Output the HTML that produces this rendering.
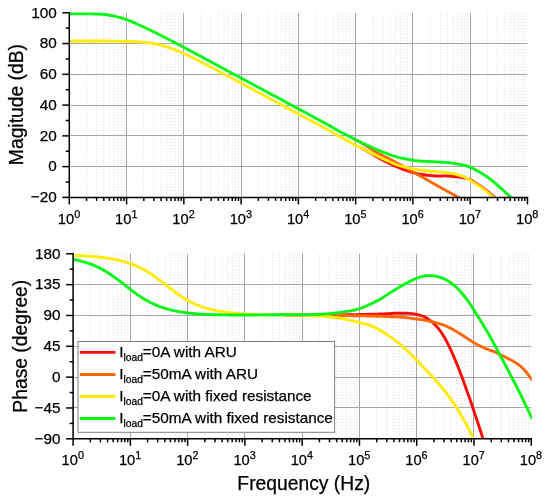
<!DOCTYPE html>
<html><head><meta charset="utf-8"><title>Bode plot</title>
<style>
html,body{margin:0;padding:0;background:#fff;}
svg{display:block;}
text{font-family:"Liberation Sans",Arial,sans-serif;fill:#000;stroke:#000;stroke-width:0.25px;}
.tl{font-size:14.7px;}
.yl{font-size:15.3px;}
.sup{font-size:10.8px;}
.sub{font-size:10.2px;}
.lg{font-size:15.3px;}
.at{font-size:19.3px;}
.mj{stroke:#a6a6a6;stroke-width:1;}
.mn{stroke:#e5e5e5;stroke-width:1;stroke-dasharray:1.5 1.5;}
.ax{stroke:#000;stroke-width:1.5;}
</style></head><body>
<svg width="550" height="499" viewBox="0 0 550 499">
<rect width="550" height="499" fill="#fff"/>
<line x1="86.54" y1="12.80" x2="86.54" y2="197.40" class="mn"/>
<line x1="96.62" y1="12.80" x2="96.62" y2="197.40" class="mn"/>
<line x1="103.78" y1="12.80" x2="103.78" y2="197.40" class="mn"/>
<line x1="109.33" y1="12.80" x2="109.33" y2="197.40" class="mn"/>
<line x1="113.86" y1="12.80" x2="113.86" y2="197.40" class="mn"/>
<line x1="117.70" y1="12.80" x2="117.70" y2="197.40" class="mn"/>
<line x1="121.02" y1="12.80" x2="121.02" y2="197.40" class="mn"/>
<line x1="123.95" y1="12.80" x2="123.95" y2="197.40" class="mn"/>
<line x1="143.81" y1="12.80" x2="143.81" y2="197.40" class="mn"/>
<line x1="153.89" y1="12.80" x2="153.89" y2="197.40" class="mn"/>
<line x1="161.05" y1="12.80" x2="161.05" y2="197.40" class="mn"/>
<line x1="166.60" y1="12.80" x2="166.60" y2="197.40" class="mn"/>
<line x1="171.13" y1="12.80" x2="171.13" y2="197.40" class="mn"/>
<line x1="174.97" y1="12.80" x2="174.97" y2="197.40" class="mn"/>
<line x1="178.29" y1="12.80" x2="178.29" y2="197.40" class="mn"/>
<line x1="181.22" y1="12.80" x2="181.22" y2="197.40" class="mn"/>
<line x1="201.08" y1="12.80" x2="201.08" y2="197.40" class="mn"/>
<line x1="211.16" y1="12.80" x2="211.16" y2="197.40" class="mn"/>
<line x1="218.32" y1="12.80" x2="218.32" y2="197.40" class="mn"/>
<line x1="223.87" y1="12.80" x2="223.87" y2="197.40" class="mn"/>
<line x1="228.40" y1="12.80" x2="228.40" y2="197.40" class="mn"/>
<line x1="232.24" y1="12.80" x2="232.24" y2="197.40" class="mn"/>
<line x1="235.56" y1="12.80" x2="235.56" y2="197.40" class="mn"/>
<line x1="238.49" y1="12.80" x2="238.49" y2="197.40" class="mn"/>
<line x1="258.35" y1="12.80" x2="258.35" y2="197.40" class="mn"/>
<line x1="268.43" y1="12.80" x2="268.43" y2="197.40" class="mn"/>
<line x1="275.59" y1="12.80" x2="275.59" y2="197.40" class="mn"/>
<line x1="281.14" y1="12.80" x2="281.14" y2="197.40" class="mn"/>
<line x1="285.67" y1="12.80" x2="285.67" y2="197.40" class="mn"/>
<line x1="289.51" y1="12.80" x2="289.51" y2="197.40" class="mn"/>
<line x1="292.83" y1="12.80" x2="292.83" y2="197.40" class="mn"/>
<line x1="295.76" y1="12.80" x2="295.76" y2="197.40" class="mn"/>
<line x1="315.62" y1="12.80" x2="315.62" y2="197.40" class="mn"/>
<line x1="325.70" y1="12.80" x2="325.70" y2="197.40" class="mn"/>
<line x1="332.86" y1="12.80" x2="332.86" y2="197.40" class="mn"/>
<line x1="338.41" y1="12.80" x2="338.41" y2="197.40" class="mn"/>
<line x1="342.94" y1="12.80" x2="342.94" y2="197.40" class="mn"/>
<line x1="346.78" y1="12.80" x2="346.78" y2="197.40" class="mn"/>
<line x1="350.10" y1="12.80" x2="350.10" y2="197.40" class="mn"/>
<line x1="353.03" y1="12.80" x2="353.03" y2="197.40" class="mn"/>
<line x1="372.89" y1="12.80" x2="372.89" y2="197.40" class="mn"/>
<line x1="382.97" y1="12.80" x2="382.97" y2="197.40" class="mn"/>
<line x1="390.13" y1="12.80" x2="390.13" y2="197.40" class="mn"/>
<line x1="395.68" y1="12.80" x2="395.68" y2="197.40" class="mn"/>
<line x1="400.21" y1="12.80" x2="400.21" y2="197.40" class="mn"/>
<line x1="404.05" y1="12.80" x2="404.05" y2="197.40" class="mn"/>
<line x1="407.37" y1="12.80" x2="407.37" y2="197.40" class="mn"/>
<line x1="410.30" y1="12.80" x2="410.30" y2="197.40" class="mn"/>
<line x1="430.16" y1="12.80" x2="430.16" y2="197.40" class="mn"/>
<line x1="440.24" y1="12.80" x2="440.24" y2="197.40" class="mn"/>
<line x1="447.40" y1="12.80" x2="447.40" y2="197.40" class="mn"/>
<line x1="452.95" y1="12.80" x2="452.95" y2="197.40" class="mn"/>
<line x1="457.48" y1="12.80" x2="457.48" y2="197.40" class="mn"/>
<line x1="461.32" y1="12.80" x2="461.32" y2="197.40" class="mn"/>
<line x1="464.64" y1="12.80" x2="464.64" y2="197.40" class="mn"/>
<line x1="467.57" y1="12.80" x2="467.57" y2="197.40" class="mn"/>
<line x1="487.43" y1="12.80" x2="487.43" y2="197.40" class="mn"/>
<line x1="497.51" y1="12.80" x2="497.51" y2="197.40" class="mn"/>
<line x1="504.67" y1="12.80" x2="504.67" y2="197.40" class="mn"/>
<line x1="510.22" y1="12.80" x2="510.22" y2="197.40" class="mn"/>
<line x1="514.75" y1="12.80" x2="514.75" y2="197.40" class="mn"/>
<line x1="518.59" y1="12.80" x2="518.59" y2="197.40" class="mn"/>
<line x1="521.91" y1="12.80" x2="521.91" y2="197.40" class="mn"/>
<line x1="524.84" y1="12.80" x2="524.84" y2="197.40" class="mn"/>
<line x1="126.50" y1="12.80" x2="126.50" y2="197.40" class="mj"/>
<line x1="183.50" y1="12.80" x2="183.50" y2="197.40" class="mj"/>
<line x1="241.50" y1="12.80" x2="241.50" y2="197.40" class="mj"/>
<line x1="298.50" y1="12.80" x2="298.50" y2="197.40" class="mj"/>
<line x1="355.50" y1="12.80" x2="355.50" y2="197.40" class="mj"/>
<line x1="412.50" y1="12.80" x2="412.50" y2="197.40" class="mj"/>
<line x1="470.50" y1="12.80" x2="470.50" y2="197.40" class="mj"/>
<line x1="69.30" y1="43.50" x2="527.46" y2="43.50" class="mj"/>
<line x1="69.30" y1="74.50" x2="527.46" y2="74.50" class="mj"/>
<line x1="69.30" y1="105.50" x2="527.46" y2="105.50" class="mj"/>
<line x1="69.30" y1="135.50" x2="527.46" y2="135.50" class="mj"/>
<line x1="69.30" y1="166.50" x2="527.46" y2="166.50" class="mj"/>
<clipPath id="ct"><rect x="69.30" y="9.80" width="458.66" height="187.60"/></clipPath>
<g clip-path="url(#ct)" fill="none" stroke-width="2.9" stroke-linejoin="round">
<path d="M361.4 148.1 L362.5 148.7 L363.7 149.3 L364.8 149.9 L366.0 150.5 L367.1 151.1 L368.2 151.7 L369.4 152.3 L370.5 153.0 L371.7 153.6 L372.8 154.3 L374.0 155.0 L375.1 155.7 L376.3 156.5 L377.4 157.2 L378.6 157.8 L379.7 158.5 L380.8 159.1 L382.0 159.7 L383.1 160.3 L384.3 160.9 L385.4 161.5 L386.6 162.0 L387.7 162.6 L388.9 163.2 L390.0 163.7 L391.2 164.3 L392.3 164.8 L393.4 165.3 L394.6 165.8 L395.7 166.3 L396.9 166.8 L398.0 167.2 L399.2 167.7 L400.3 168.2 L401.5 168.6 L402.6 169.1 L403.8 169.5 L404.9 169.9 L406.0 170.3 L407.2 170.8 L408.3 171.2 L409.5 171.6 L410.6 171.9 L411.8 172.3 L412.9 172.6 L414.1 172.9 L415.2 173.2 L416.4 173.5 L417.5 173.7 L418.6 173.9 L419.8 174.1 L420.9 174.3 L422.1 174.5 L423.2 174.7 L424.4 174.8 L425.5 175.0 L426.7 175.2 L427.8 175.3 L429.0 175.4 L430.1 175.5 L431.2 175.6 L432.4 175.7 L433.5 175.8 L434.7 175.9 L435.8 176.0 L437.0 176.0 L438.1 176.0 L439.3 176.1 L440.4 176.1 L441.6 176.0 L442.7 176.0 L443.8 175.9 L445.0 175.9 L446.1 175.9 L447.3 176.0 L448.4 176.0 L449.6 176.1 L450.7 176.2 L451.9 176.3 L453.0 176.4 L454.2 176.5 L455.3 176.7 L456.4 176.8 L457.6 176.9 L458.7 177.1 L459.9 177.2 L461.0 177.4 L462.2 177.6 L463.3 177.8 L464.5 178.0 L465.6 178.2 L466.8 178.5 L467.9 178.8 L469.0 179.2 L470.2 179.7 L471.3 180.3 L472.5 180.9 L473.6 181.6 L474.8 182.4 L475.9 183.1 L477.1 183.9 L478.2 184.7 L479.4 185.4 L480.5 186.2 L481.6 187.0 L482.8 187.8 L483.9 188.6 L485.1 189.5 L486.2 190.4 L487.4 191.3 L488.5 192.2 L489.7 193.2 L490.8 194.2 L492.0 195.1 L493.1 196.1 L494.2 197.1 L495.4 198.1 L496.5 199.1 L497.7 200.1 L498.8 201.2 L499.4 201.7" stroke="#ff0a0a"/>
<path d="M352.8 138.3 L353.9 138.9 L355.1 139.5 L356.2 140.1 L357.4 140.7 L358.5 141.3 L359.7 142.0 L360.8 142.6 L361.9 143.2 L363.1 143.9 L364.2 144.6 L365.4 145.2 L366.5 146.0 L367.7 146.7 L368.8 147.5 L370.0 148.3 L371.1 149.1 L372.3 149.8 L373.4 150.5 L374.5 151.2 L375.7 151.9 L376.8 152.5 L378.0 153.1 L379.1 153.7 L380.3 154.3 L381.4 154.9 L382.6 155.5 L383.7 156.1 L384.9 156.7 L386.0 157.2 L387.1 157.8 L388.3 158.4 L389.4 159.0 L390.6 159.5 L391.7 160.1 L392.9 160.7 L394.0 161.3 L395.2 162.0 L396.3 162.6 L397.5 163.2 L398.6 163.8 L399.7 164.4 L400.9 165.0 L402.0 165.6 L403.2 166.3 L404.3 166.9 L405.5 167.5 L406.6 168.1 L407.8 168.8 L408.9 169.5 L410.1 170.2 L411.2 170.9 L412.3 171.6 L413.5 172.3 L414.6 172.9 L415.8 173.5 L416.9 174.2 L418.1 174.8 L419.2 175.4 L420.4 176.1 L421.5 176.7 L422.7 177.3 L423.8 178.0 L424.9 178.6 L426.1 179.3 L427.2 179.9 L428.4 180.6 L429.5 181.2 L430.7 181.9 L431.8 182.6 L433.0 183.2 L434.1 183.9 L435.3 184.5 L436.4 185.2 L437.5 185.8 L438.7 186.5 L439.8 187.1 L441.0 187.7 L442.1 188.4 L443.3 189.0 L444.4 189.7 L445.6 190.3 L446.7 190.9 L447.9 191.5 L449.0 192.1 L450.1 192.8 L451.3 193.4 L452.4 194.0 L453.6 194.6 L454.7 195.3 L455.9 196.0 L457.0 196.6 L458.2 197.3 L459.3 198.0 L460.5 198.6 L461.6 199.3 L462.7 200.0 L463.9 200.7 L465.0 201.4 L465.6 201.7" stroke="#ff6608"/>
<path d="M69.3 41.0 L70.4 41.0 L71.6 41.0 L72.7 41.0 L73.9 41.0 L75.0 41.0 L76.2 41.0 L77.3 41.0 L78.5 41.0 L79.6 41.0 L80.8 41.0 L81.9 41.0 L83.0 41.0 L84.2 41.0 L85.3 41.0 L86.5 41.0 L87.6 41.0 L88.8 41.0 L89.9 41.0 L91.1 41.0 L92.2 41.0 L93.4 41.0 L94.5 41.0 L95.6 41.0 L96.8 41.0 L97.9 41.0 L99.1 41.0 L100.2 41.0 L101.4 41.0 L102.5 41.0 L103.7 41.0 L104.8 41.0 L106.0 41.0 L107.1 41.0 L108.2 41.0 L109.4 41.0 L110.5 41.1 L111.7 41.1 L112.8 41.1 L114.0 41.1 L115.1 41.1 L116.3 41.1 L117.4 41.1 L118.6 41.1 L119.7 41.2 L120.8 41.2 L122.0 41.2 L123.1 41.2 L124.3 41.3 L125.4 41.3 L126.6 41.3 L127.7 41.4 L128.9 41.4 L130.0 41.4 L131.2 41.5 L132.3 41.5 L133.4 41.6 L134.6 41.6 L135.7 41.7 L136.9 41.8 L138.0 41.8 L139.2 41.9 L140.3 42.0 L141.5 42.1 L142.6 42.2 L143.8 42.3 L144.9 42.4 L146.0 42.5 L147.2 42.7 L148.3 42.8 L149.5 43.0 L150.6 43.1 L151.8 43.3 L152.9 43.5 L154.1 43.7 L155.2 43.9 L156.4 44.1 L157.5 44.4 L158.6 44.6 L159.8 44.9 L160.9 45.2 L162.1 45.5 L163.2 45.8 L164.4 46.1 L165.5 46.4 L166.7 46.8 L167.8 47.2 L168.9 47.5 L170.1 47.9 L171.2 48.3 L172.4 48.8 L173.5 49.2 L174.7 49.6 L175.8 50.1 L177.0 50.5 L178.1 51.0 L179.3 51.5 L180.4 52.0 L181.5 52.5 L182.7 53.0 L183.8 53.5 L185.0 54.0 L186.1 54.6 L187.3 55.1 L188.4 55.6 L189.6 56.2 L190.7 56.7 L191.9 57.3 L193.0 57.9 L194.1 58.4 L195.3 59.0 L196.4 59.6 L197.6 60.2 L198.7 60.7 L199.9 61.3 L201.0 61.9 L202.2 62.5 L203.3 63.1 L204.5 63.7 L205.6 64.3 L206.7 64.9 L207.9 65.5 L209.0 66.1 L210.2 66.7 L211.3 67.3 L212.5 67.9 L213.6 68.5 L214.8 69.1 L215.9 69.7 L217.1 70.3 L218.2 70.9 L219.3 71.5 L220.5 72.1 L221.6 72.7 L222.8 73.4 L223.9 74.0 L225.1 74.6 L226.2 75.2 L227.4 75.8 L228.5 76.4 L229.7 77.0 L230.8 77.6 L231.9 78.3 L233.1 78.9 L234.2 79.5 L235.4 80.1 L236.5 80.7 L237.7 81.3 L238.8 81.9 L240.0 82.5 L241.1 83.2 L242.3 83.8 L243.4 84.4 L244.5 85.0 L245.7 85.6 L246.8 86.2 L248.0 86.9 L249.1 87.5 L250.3 88.1 L251.4 88.7 L252.6 89.3 L253.7 89.9 L254.9 90.5 L256.0 91.2 L257.1 91.8 L258.3 92.4 L259.4 93.0 L260.6 93.6 L261.7 94.2 L262.9 94.8 L264.0 95.5 L265.2 96.1 L266.3 96.7 L267.5 97.3 L268.6 97.9 L269.7 98.5 L270.9 99.2 L272.0 99.8 L273.2 100.4 L274.3 101.0 L275.5 101.6 L276.6 102.2 L277.8 102.8 L278.9 103.5 L280.1 104.1 L281.2 104.7 L282.3 105.3 L283.5 105.9 L284.6 106.5 L285.8 107.1 L286.9 107.8 L288.1 108.4 L289.2 109.0 L290.4 109.6 L291.5 110.2 L292.7 110.8 L293.8 111.5 L294.9 112.1 L296.1 112.7 L297.2 113.3 L298.4 113.9 L299.5 114.5 L300.7 115.1 L301.8 115.8 L303.0 116.4 L304.1 117.0 L305.3 117.6 L306.4 118.2 L307.5 118.8 L308.7 119.5 L309.8 120.1 L311.0 120.7 L312.1 121.3 L313.3 121.9 L314.4 122.5 L315.6 123.1 L316.7 123.8 L317.9 124.4 L319.0 125.0 L320.1 125.6 L321.3 126.2 L322.4 126.8 L323.6 127.5 L324.7 128.1 L325.9 128.7 L327.0 129.3 L328.2 129.9 L329.3 130.6 L330.5 131.2 L331.6 131.9 L332.7 132.6 L333.9 133.3 L335.0 133.9 L336.2 134.6 L337.3 135.3 L338.5 135.9 L339.6 136.6 L340.8 137.2 L341.9 137.8 L343.1 138.4 L344.2 139.0 L345.3 139.6 L346.5 140.2 L347.6 140.9 L348.8 141.5 L349.9 142.1 L351.1 142.7 L352.2 143.3 L353.4 144.0 L354.5 144.6 L355.7 145.2 L356.8 145.8 L357.9 146.4 L359.1 147.0 L360.2 147.5 L361.4 148.1 L362.5 148.7 L363.7 149.3 L364.8 149.8 L366.0 150.4 L367.1 151.0 L368.2 151.5 L369.4 152.1 L370.5 152.7 L371.7 153.2 L372.8 153.8 L374.0 154.4 L375.1 154.9 L376.3 155.5 L377.4 156.1 L378.6 156.6 L379.7 157.2 L380.8 157.7 L382.0 158.3 L383.1 158.8 L384.3 159.3 L385.4 159.9 L386.6 160.4 L387.7 160.9 L388.9 161.5 L390.0 162.0 L391.2 162.5 L392.3 163.0 L393.4 163.5 L394.6 163.9 L395.7 164.4 L396.9 164.8 L398.0 165.1 L399.2 165.5 L400.3 165.8 L401.5 166.2 L402.6 166.5 L403.8 166.7 L404.9 167.0 L406.0 167.3 L407.2 167.6 L408.3 167.9 L409.5 168.1 L410.6 168.4 L411.8 168.6 L412.9 168.9 L414.1 169.1 L415.2 169.3 L416.4 169.4 L417.5 169.6 L418.6 169.8 L419.8 169.9 L420.9 170.1 L422.1 170.2 L423.2 170.3 L424.4 170.5 L425.5 170.6 L426.7 170.7 L427.8 170.9 L429.0 171.0 L430.1 171.1 L431.2 171.2 L432.4 171.3 L433.5 171.4 L434.7 171.5 L435.8 171.6 L437.0 171.7 L438.1 171.8 L439.3 171.9 L440.4 172.0 L441.6 172.1 L442.7 172.2 L443.8 172.4 L445.0 172.5 L446.1 172.6 L447.3 172.8 L448.4 172.9 L449.6 173.1 L450.7 173.3 L451.9 173.5 L453.0 173.7 L454.2 173.9 L455.3 174.2 L456.4 174.5 L457.6 174.8 L458.7 175.2 L459.9 175.5 L461.0 175.9 L462.2 176.3 L463.3 176.7 L464.5 177.2 L465.6 177.8 L466.8 178.3 L467.9 179.0 L469.0 179.6 L470.2 180.3 L471.3 181.0 L472.5 181.7 L473.6 182.4 L474.8 183.1 L475.9 183.9 L477.1 184.6 L478.2 185.4 L479.4 186.1 L480.5 186.9 L481.6 187.7 L482.8 188.6 L483.9 189.4 L485.1 190.3 L486.2 191.2 L487.4 192.2 L488.5 193.1 L489.7 194.1 L490.8 195.0 L492.0 196.0 L493.1 197.0 L494.2 198.0 L495.4 199.0 L496.5 200.1 L497.7 201.2 L498.3 201.7" stroke="#ffea08"/>
<path d="M69.3 13.9 L70.4 13.9 L71.6 13.9 L72.7 13.9 L73.9 13.9 L75.0 13.9 L76.2 13.9 L77.3 13.9 L78.5 13.9 L79.6 13.9 L80.8 13.9 L81.9 13.9 L83.0 13.9 L84.2 13.9 L85.3 13.9 L86.5 13.9 L87.6 13.9 L88.8 13.9 L89.9 13.9 L91.1 13.9 L92.2 13.9 L93.4 13.9 L94.5 14.0 L95.6 14.0 L96.8 14.0 L97.9 14.1 L99.1 14.1 L100.2 14.2 L101.4 14.2 L102.5 14.3 L103.7 14.4 L104.8 14.5 L106.0 14.7 L107.1 14.8 L108.2 15.0 L109.4 15.2 L110.5 15.4 L111.7 15.6 L112.8 15.8 L114.0 16.1 L115.1 16.3 L116.3 16.6 L117.4 16.9 L118.6 17.1 L119.7 17.4 L120.8 17.7 L122.0 18.1 L123.1 18.4 L124.3 18.8 L125.4 19.2 L126.6 19.6 L127.7 20.0 L128.9 20.5 L130.0 20.9 L131.2 21.4 L132.3 21.9 L133.4 22.4 L134.6 22.9 L135.7 23.4 L136.9 24.0 L138.0 24.5 L139.2 25.0 L140.3 25.5 L141.5 26.0 L142.6 26.5 L143.8 27.1 L144.9 27.6 L146.0 28.1 L147.2 28.7 L148.3 29.2 L149.5 29.8 L150.6 30.3 L151.8 30.9 L152.9 31.4 L154.1 32.0 L155.2 32.5 L156.4 33.1 L157.5 33.7 L158.6 34.2 L159.8 34.8 L160.9 35.4 L162.1 36.0 L163.2 36.6 L164.4 37.2 L165.5 37.7 L166.7 38.3 L167.8 38.9 L168.9 39.5 L170.1 40.1 L171.2 40.7 L172.4 41.3 L173.5 41.9 L174.7 42.5 L175.8 43.1 L177.0 43.7 L178.1 44.3 L179.3 44.9 L180.4 45.5 L181.5 46.1 L182.7 46.7 L183.8 47.3 L185.0 48.0 L186.1 48.6 L187.3 49.2 L188.4 49.8 L189.6 50.4 L190.7 51.0 L191.9 51.6 L193.0 52.2 L194.1 52.8 L195.3 53.5 L196.4 54.1 L197.6 54.7 L198.7 55.3 L199.9 55.9 L201.0 56.5 L202.2 57.2 L203.3 57.8 L204.5 58.4 L205.6 59.0 L206.7 59.6 L207.9 60.2 L209.0 60.8 L210.2 61.5 L211.3 62.1 L212.5 62.7 L213.6 63.3 L214.8 63.9 L215.9 64.5 L217.1 65.2 L218.2 65.8 L219.3 66.4 L220.5 67.0 L221.6 67.6 L222.8 68.2 L223.9 68.8 L225.1 69.5 L226.2 70.1 L227.4 70.7 L228.5 71.3 L229.7 71.9 L230.8 72.5 L231.9 73.2 L233.1 73.8 L234.2 74.4 L235.4 75.0 L236.5 75.6 L237.7 76.2 L238.8 76.8 L240.0 77.5 L241.1 78.1 L242.3 78.7 L243.4 79.3 L244.5 79.9 L245.7 80.5 L246.8 81.1 L248.0 81.8 L249.1 82.4 L250.3 83.0 L251.4 83.6 L252.6 84.2 L253.7 84.8 L254.9 85.5 L256.0 86.1 L257.1 86.7 L258.3 87.3 L259.4 87.9 L260.6 88.5 L261.7 89.1 L262.9 89.8 L264.0 90.4 L265.2 91.0 L266.3 91.6 L267.5 92.2 L268.6 92.8 L269.7 93.5 L270.9 94.1 L272.0 94.7 L273.2 95.3 L274.3 95.9 L275.5 96.5 L276.6 97.1 L277.8 97.8 L278.9 98.4 L280.1 99.0 L281.2 99.6 L282.3 100.2 L283.5 100.8 L284.6 101.5 L285.8 102.1 L286.9 102.7 L288.1 103.3 L289.2 103.9 L290.4 104.5 L291.5 105.1 L292.7 105.8 L293.8 106.4 L294.9 107.0 L296.1 107.6 L297.2 108.2 L298.4 108.8 L299.5 109.5 L300.7 110.1 L301.8 110.7 L303.0 111.3 L304.1 111.9 L305.3 112.5 L306.4 113.1 L307.5 113.8 L308.7 114.4 L309.8 115.0 L311.0 115.6 L312.1 116.2 L313.3 116.8 L314.4 117.5 L315.6 118.1 L316.7 118.7 L317.9 119.3 L319.0 119.9 L320.1 120.5 L321.3 121.1 L322.4 121.8 L323.6 122.4 L324.7 123.0 L325.9 123.6 L327.0 124.2 L328.2 124.9 L329.3 125.5 L330.5 126.2 L331.6 126.9 L332.7 127.5 L333.9 128.2 L335.0 128.9 L336.2 129.6 L337.3 130.2 L338.5 130.9 L339.6 131.5 L340.8 132.1 L341.9 132.7 L343.1 133.3 L344.2 133.8 L345.3 134.4 L346.5 135.0 L347.6 135.6 L348.8 136.2 L349.9 136.8 L351.1 137.3 L352.2 137.9 L353.4 138.5 L354.5 139.1 L355.7 139.7 L356.8 140.2 L357.9 140.8 L359.1 141.4 L360.2 141.9 L361.4 142.5 L362.5 143.0 L363.7 143.5 L364.8 144.1 L366.0 144.6 L367.1 145.2 L368.2 145.7 L369.4 146.2 L370.5 146.8 L371.7 147.3 L372.8 147.8 L374.0 148.3 L375.1 148.8 L376.3 149.3 L377.4 149.8 L378.6 150.3 L379.7 150.8 L380.8 151.2 L382.0 151.7 L383.1 152.2 L384.3 152.6 L385.4 153.0 L386.6 153.4 L387.7 153.9 L388.9 154.3 L390.0 154.7 L391.2 155.1 L392.3 155.5 L393.4 155.9 L394.6 156.2 L395.7 156.6 L396.9 156.9 L398.0 157.3 L399.2 157.6 L400.3 157.8 L401.5 158.1 L402.6 158.3 L403.8 158.6 L404.9 158.8 L406.0 159.0 L407.2 159.2 L408.3 159.4 L409.5 159.6 L410.6 159.8 L411.8 160.1 L412.9 160.3 L414.1 160.5 L415.2 160.6 L416.4 160.8 L417.5 160.9 L418.6 161.0 L419.8 161.0 L420.9 161.1 L422.1 161.2 L423.2 161.3 L424.4 161.3 L425.5 161.4 L426.7 161.4 L427.8 161.5 L429.0 161.5 L430.1 161.6 L431.2 161.6 L432.4 161.7 L433.5 161.7 L434.7 161.8 L435.8 161.9 L437.0 161.9 L438.1 162.0 L439.3 162.1 L440.4 162.1 L441.6 162.2 L442.7 162.3 L443.8 162.4 L445.0 162.4 L446.1 162.5 L447.3 162.6 L448.4 162.7 L449.6 162.8 L450.7 162.9 L451.9 163.1 L453.0 163.2 L454.2 163.4 L455.3 163.6 L456.4 163.8 L457.6 164.0 L458.7 164.2 L459.9 164.4 L461.0 164.6 L462.2 164.8 L463.3 165.1 L464.5 165.4 L465.6 165.7 L466.8 166.0 L467.9 166.4 L469.0 166.8 L470.2 167.3 L471.3 167.8 L472.5 168.3 L473.6 168.8 L474.8 169.4 L475.9 170.0 L477.1 170.6 L478.2 171.2 L479.4 171.9 L480.5 172.6 L481.6 173.3 L482.8 174.0 L483.9 174.7 L485.1 175.5 L486.2 176.3 L487.4 177.1 L488.5 177.9 L489.7 178.8 L490.8 179.6 L492.0 180.5 L493.1 181.4 L494.2 182.3 L495.4 183.3 L496.5 184.3 L497.7 185.3 L498.8 186.4 L500.0 187.4 L501.1 188.4 L502.3 189.5 L503.4 190.5 L504.6 191.5 L505.7 192.6 L506.8 193.6 L508.0 194.6 L509.1 195.6 L510.3 196.5 L511.4 197.5 L512.6 198.5 L513.7 199.5 L514.9 200.6 L516.0 201.7" stroke="#08f518"/>
</g>
<path d="M69.30 12.05 V197.40 H528.21" class="ax" fill="none"/>
<line x1="69.30" y1="197.40" x2="69.30" y2="204.40" class="ax"/>
<line x1="86.54" y1="197.40" x2="86.54" y2="200.90" class="ax"/>
<line x1="96.62" y1="197.40" x2="96.62" y2="200.90" class="ax"/>
<line x1="103.78" y1="197.40" x2="103.78" y2="200.90" class="ax"/>
<line x1="109.33" y1="197.40" x2="109.33" y2="200.90" class="ax"/>
<line x1="113.86" y1="197.40" x2="113.86" y2="200.90" class="ax"/>
<line x1="117.70" y1="197.40" x2="117.70" y2="200.90" class="ax"/>
<line x1="121.02" y1="197.40" x2="121.02" y2="200.90" class="ax"/>
<line x1="123.95" y1="197.40" x2="123.95" y2="200.90" class="ax"/>
<text x="69.00" y="223.70" class="tl" text-anchor="middle">10<tspan class="sup" dy="-5.7">0</tspan></text>
<line x1="126.57" y1="197.40" x2="126.57" y2="204.40" class="ax"/>
<line x1="143.81" y1="197.40" x2="143.81" y2="200.90" class="ax"/>
<line x1="153.89" y1="197.40" x2="153.89" y2="200.90" class="ax"/>
<line x1="161.05" y1="197.40" x2="161.05" y2="200.90" class="ax"/>
<line x1="166.60" y1="197.40" x2="166.60" y2="200.90" class="ax"/>
<line x1="171.13" y1="197.40" x2="171.13" y2="200.90" class="ax"/>
<line x1="174.97" y1="197.40" x2="174.97" y2="200.90" class="ax"/>
<line x1="178.29" y1="197.40" x2="178.29" y2="200.90" class="ax"/>
<line x1="181.22" y1="197.40" x2="181.22" y2="200.90" class="ax"/>
<text x="126.27" y="223.70" class="tl" text-anchor="middle">10<tspan class="sup" dy="-5.7">1</tspan></text>
<line x1="183.84" y1="197.40" x2="183.84" y2="204.40" class="ax"/>
<line x1="201.08" y1="197.40" x2="201.08" y2="200.90" class="ax"/>
<line x1="211.16" y1="197.40" x2="211.16" y2="200.90" class="ax"/>
<line x1="218.32" y1="197.40" x2="218.32" y2="200.90" class="ax"/>
<line x1="223.87" y1="197.40" x2="223.87" y2="200.90" class="ax"/>
<line x1="228.40" y1="197.40" x2="228.40" y2="200.90" class="ax"/>
<line x1="232.24" y1="197.40" x2="232.24" y2="200.90" class="ax"/>
<line x1="235.56" y1="197.40" x2="235.56" y2="200.90" class="ax"/>
<line x1="238.49" y1="197.40" x2="238.49" y2="200.90" class="ax"/>
<text x="183.54" y="223.70" class="tl" text-anchor="middle">10<tspan class="sup" dy="-5.7">2</tspan></text>
<line x1="241.11" y1="197.40" x2="241.11" y2="204.40" class="ax"/>
<line x1="258.35" y1="197.40" x2="258.35" y2="200.90" class="ax"/>
<line x1="268.43" y1="197.40" x2="268.43" y2="200.90" class="ax"/>
<line x1="275.59" y1="197.40" x2="275.59" y2="200.90" class="ax"/>
<line x1="281.14" y1="197.40" x2="281.14" y2="200.90" class="ax"/>
<line x1="285.67" y1="197.40" x2="285.67" y2="200.90" class="ax"/>
<line x1="289.51" y1="197.40" x2="289.51" y2="200.90" class="ax"/>
<line x1="292.83" y1="197.40" x2="292.83" y2="200.90" class="ax"/>
<line x1="295.76" y1="197.40" x2="295.76" y2="200.90" class="ax"/>
<text x="240.81" y="223.70" class="tl" text-anchor="middle">10<tspan class="sup" dy="-5.7">3</tspan></text>
<line x1="298.38" y1="197.40" x2="298.38" y2="204.40" class="ax"/>
<line x1="315.62" y1="197.40" x2="315.62" y2="200.90" class="ax"/>
<line x1="325.70" y1="197.40" x2="325.70" y2="200.90" class="ax"/>
<line x1="332.86" y1="197.40" x2="332.86" y2="200.90" class="ax"/>
<line x1="338.41" y1="197.40" x2="338.41" y2="200.90" class="ax"/>
<line x1="342.94" y1="197.40" x2="342.94" y2="200.90" class="ax"/>
<line x1="346.78" y1="197.40" x2="346.78" y2="200.90" class="ax"/>
<line x1="350.10" y1="197.40" x2="350.10" y2="200.90" class="ax"/>
<line x1="353.03" y1="197.40" x2="353.03" y2="200.90" class="ax"/>
<text x="298.08" y="223.70" class="tl" text-anchor="middle">10<tspan class="sup" dy="-5.7">4</tspan></text>
<line x1="355.65" y1="197.40" x2="355.65" y2="204.40" class="ax"/>
<line x1="372.89" y1="197.40" x2="372.89" y2="200.90" class="ax"/>
<line x1="382.97" y1="197.40" x2="382.97" y2="200.90" class="ax"/>
<line x1="390.13" y1="197.40" x2="390.13" y2="200.90" class="ax"/>
<line x1="395.68" y1="197.40" x2="395.68" y2="200.90" class="ax"/>
<line x1="400.21" y1="197.40" x2="400.21" y2="200.90" class="ax"/>
<line x1="404.05" y1="197.40" x2="404.05" y2="200.90" class="ax"/>
<line x1="407.37" y1="197.40" x2="407.37" y2="200.90" class="ax"/>
<line x1="410.30" y1="197.40" x2="410.30" y2="200.90" class="ax"/>
<text x="355.35" y="223.70" class="tl" text-anchor="middle">10<tspan class="sup" dy="-5.7">5</tspan></text>
<line x1="412.92" y1="197.40" x2="412.92" y2="204.40" class="ax"/>
<line x1="430.16" y1="197.40" x2="430.16" y2="200.90" class="ax"/>
<line x1="440.24" y1="197.40" x2="440.24" y2="200.90" class="ax"/>
<line x1="447.40" y1="197.40" x2="447.40" y2="200.90" class="ax"/>
<line x1="452.95" y1="197.40" x2="452.95" y2="200.90" class="ax"/>
<line x1="457.48" y1="197.40" x2="457.48" y2="200.90" class="ax"/>
<line x1="461.32" y1="197.40" x2="461.32" y2="200.90" class="ax"/>
<line x1="464.64" y1="197.40" x2="464.64" y2="200.90" class="ax"/>
<line x1="467.57" y1="197.40" x2="467.57" y2="200.90" class="ax"/>
<text x="412.62" y="223.70" class="tl" text-anchor="middle">10<tspan class="sup" dy="-5.7">6</tspan></text>
<line x1="470.19" y1="197.40" x2="470.19" y2="204.40" class="ax"/>
<line x1="487.43" y1="197.40" x2="487.43" y2="200.90" class="ax"/>
<line x1="497.51" y1="197.40" x2="497.51" y2="200.90" class="ax"/>
<line x1="504.67" y1="197.40" x2="504.67" y2="200.90" class="ax"/>
<line x1="510.22" y1="197.40" x2="510.22" y2="200.90" class="ax"/>
<line x1="514.75" y1="197.40" x2="514.75" y2="200.90" class="ax"/>
<line x1="518.59" y1="197.40" x2="518.59" y2="200.90" class="ax"/>
<line x1="521.91" y1="197.40" x2="521.91" y2="200.90" class="ax"/>
<line x1="524.84" y1="197.40" x2="524.84" y2="200.90" class="ax"/>
<text x="469.89" y="223.70" class="tl" text-anchor="middle">10<tspan class="sup" dy="-5.7">7</tspan></text>
<line x1="527.46" y1="197.40" x2="527.46" y2="204.40" class="ax"/>
<text x="527.16" y="223.70" class="tl" text-anchor="middle">10<tspan class="sup" dy="-5.7">8</tspan></text>
<line x1="62.30" y1="12.80" x2="69.30" y2="12.80" class="ax"/>
<line x1="65.80" y1="28.18" x2="69.30" y2="28.18" class="ax"/>
<text x="56.70" y="17.60" class="tl yl" text-anchor="end">100</text>
<line x1="62.30" y1="43.57" x2="69.30" y2="43.57" class="ax"/>
<line x1="65.80" y1="58.95" x2="69.30" y2="58.95" class="ax"/>
<text x="56.70" y="48.37" class="tl yl" text-anchor="end">80</text>
<line x1="62.30" y1="74.33" x2="69.30" y2="74.33" class="ax"/>
<line x1="65.80" y1="89.72" x2="69.30" y2="89.72" class="ax"/>
<text x="56.70" y="79.13" class="tl yl" text-anchor="end">60</text>
<line x1="62.30" y1="105.10" x2="69.30" y2="105.10" class="ax"/>
<line x1="65.80" y1="120.48" x2="69.30" y2="120.48" class="ax"/>
<text x="56.70" y="109.90" class="tl yl" text-anchor="end">40</text>
<line x1="62.30" y1="135.87" x2="69.30" y2="135.87" class="ax"/>
<line x1="65.80" y1="151.25" x2="69.30" y2="151.25" class="ax"/>
<text x="56.70" y="140.67" class="tl yl" text-anchor="end">20</text>
<line x1="62.30" y1="166.63" x2="69.30" y2="166.63" class="ax"/>
<line x1="65.80" y1="182.02" x2="69.30" y2="182.02" class="ax"/>
<text x="56.70" y="171.43" class="tl yl" text-anchor="end">0</text>
<line x1="62.30" y1="197.40" x2="69.30" y2="197.40" class="ax"/>
<text x="56.70" y="202.20" class="tl yl" text-anchor="end">−20</text>
<text transform="translate(22.8 104.6) rotate(-90)" class="at" text-anchor="middle">Magitude (dB)</text>
<line x1="90.34" y1="253.80" x2="90.34" y2="438.80" class="mn"/>
<line x1="100.42" y1="253.80" x2="100.42" y2="438.80" class="mn"/>
<line x1="107.58" y1="253.80" x2="107.58" y2="438.80" class="mn"/>
<line x1="113.13" y1="253.80" x2="113.13" y2="438.80" class="mn"/>
<line x1="117.66" y1="253.80" x2="117.66" y2="438.80" class="mn"/>
<line x1="121.50" y1="253.80" x2="121.50" y2="438.80" class="mn"/>
<line x1="124.82" y1="253.80" x2="124.82" y2="438.80" class="mn"/>
<line x1="127.75" y1="253.80" x2="127.75" y2="438.80" class="mn"/>
<line x1="147.61" y1="253.80" x2="147.61" y2="438.80" class="mn"/>
<line x1="157.69" y1="253.80" x2="157.69" y2="438.80" class="mn"/>
<line x1="164.85" y1="253.80" x2="164.85" y2="438.80" class="mn"/>
<line x1="170.40" y1="253.80" x2="170.40" y2="438.80" class="mn"/>
<line x1="174.93" y1="253.80" x2="174.93" y2="438.80" class="mn"/>
<line x1="178.77" y1="253.80" x2="178.77" y2="438.80" class="mn"/>
<line x1="182.09" y1="253.80" x2="182.09" y2="438.80" class="mn"/>
<line x1="185.02" y1="253.80" x2="185.02" y2="438.80" class="mn"/>
<line x1="204.88" y1="253.80" x2="204.88" y2="438.80" class="mn"/>
<line x1="214.96" y1="253.80" x2="214.96" y2="438.80" class="mn"/>
<line x1="222.12" y1="253.80" x2="222.12" y2="438.80" class="mn"/>
<line x1="227.67" y1="253.80" x2="227.67" y2="438.80" class="mn"/>
<line x1="232.20" y1="253.80" x2="232.20" y2="438.80" class="mn"/>
<line x1="236.04" y1="253.80" x2="236.04" y2="438.80" class="mn"/>
<line x1="239.36" y1="253.80" x2="239.36" y2="438.80" class="mn"/>
<line x1="242.29" y1="253.80" x2="242.29" y2="438.80" class="mn"/>
<line x1="262.15" y1="253.80" x2="262.15" y2="438.80" class="mn"/>
<line x1="272.23" y1="253.80" x2="272.23" y2="438.80" class="mn"/>
<line x1="279.39" y1="253.80" x2="279.39" y2="438.80" class="mn"/>
<line x1="284.94" y1="253.80" x2="284.94" y2="438.80" class="mn"/>
<line x1="289.47" y1="253.80" x2="289.47" y2="438.80" class="mn"/>
<line x1="293.31" y1="253.80" x2="293.31" y2="438.80" class="mn"/>
<line x1="296.63" y1="253.80" x2="296.63" y2="438.80" class="mn"/>
<line x1="299.56" y1="253.80" x2="299.56" y2="438.80" class="mn"/>
<line x1="319.42" y1="253.80" x2="319.42" y2="438.80" class="mn"/>
<line x1="329.50" y1="253.80" x2="329.50" y2="438.80" class="mn"/>
<line x1="336.66" y1="253.80" x2="336.66" y2="438.80" class="mn"/>
<line x1="342.21" y1="253.80" x2="342.21" y2="438.80" class="mn"/>
<line x1="346.74" y1="253.80" x2="346.74" y2="438.80" class="mn"/>
<line x1="350.58" y1="253.80" x2="350.58" y2="438.80" class="mn"/>
<line x1="353.90" y1="253.80" x2="353.90" y2="438.80" class="mn"/>
<line x1="356.83" y1="253.80" x2="356.83" y2="438.80" class="mn"/>
<line x1="376.69" y1="253.80" x2="376.69" y2="438.80" class="mn"/>
<line x1="386.77" y1="253.80" x2="386.77" y2="438.80" class="mn"/>
<line x1="393.93" y1="253.80" x2="393.93" y2="438.80" class="mn"/>
<line x1="399.48" y1="253.80" x2="399.48" y2="438.80" class="mn"/>
<line x1="404.01" y1="253.80" x2="404.01" y2="438.80" class="mn"/>
<line x1="407.85" y1="253.80" x2="407.85" y2="438.80" class="mn"/>
<line x1="411.17" y1="253.80" x2="411.17" y2="438.80" class="mn"/>
<line x1="414.10" y1="253.80" x2="414.10" y2="438.80" class="mn"/>
<line x1="433.96" y1="253.80" x2="433.96" y2="438.80" class="mn"/>
<line x1="444.04" y1="253.80" x2="444.04" y2="438.80" class="mn"/>
<line x1="451.20" y1="253.80" x2="451.20" y2="438.80" class="mn"/>
<line x1="456.75" y1="253.80" x2="456.75" y2="438.80" class="mn"/>
<line x1="461.28" y1="253.80" x2="461.28" y2="438.80" class="mn"/>
<line x1="465.12" y1="253.80" x2="465.12" y2="438.80" class="mn"/>
<line x1="468.44" y1="253.80" x2="468.44" y2="438.80" class="mn"/>
<line x1="471.37" y1="253.80" x2="471.37" y2="438.80" class="mn"/>
<line x1="491.23" y1="253.80" x2="491.23" y2="438.80" class="mn"/>
<line x1="501.31" y1="253.80" x2="501.31" y2="438.80" class="mn"/>
<line x1="508.47" y1="253.80" x2="508.47" y2="438.80" class="mn"/>
<line x1="514.02" y1="253.80" x2="514.02" y2="438.80" class="mn"/>
<line x1="518.55" y1="253.80" x2="518.55" y2="438.80" class="mn"/>
<line x1="522.39" y1="253.80" x2="522.39" y2="438.80" class="mn"/>
<line x1="525.71" y1="253.80" x2="525.71" y2="438.80" class="mn"/>
<line x1="528.64" y1="253.80" x2="528.64" y2="438.80" class="mn"/>
<line x1="130.50" y1="253.80" x2="130.50" y2="438.80" class="mj"/>
<line x1="187.50" y1="253.80" x2="187.50" y2="438.80" class="mj"/>
<line x1="244.50" y1="253.80" x2="244.50" y2="438.80" class="mj"/>
<line x1="302.50" y1="253.80" x2="302.50" y2="438.80" class="mj"/>
<line x1="359.50" y1="253.80" x2="359.50" y2="438.80" class="mj"/>
<line x1="416.50" y1="253.80" x2="416.50" y2="438.80" class="mj"/>
<line x1="473.50" y1="253.80" x2="473.50" y2="438.80" class="mj"/>
<line x1="73.10" y1="284.50" x2="531.26" y2="284.50" class="mj"/>
<line x1="73.10" y1="315.50" x2="531.26" y2="315.50" class="mj"/>
<line x1="73.10" y1="346.50" x2="531.26" y2="346.50" class="mj"/>
<line x1="73.10" y1="377.50" x2="531.26" y2="377.50" class="mj"/>
<line x1="73.10" y1="407.50" x2="531.26" y2="407.50" class="mj"/>
<clipPath id="cb"><rect x="73.10" y="250.80" width="458.66" height="188.00"/></clipPath>
<g clip-path="url(#cb)" fill="none" stroke-width="2.9" stroke-linejoin="round">
<path d="M285.0 315.0 L286.1 315.0 L287.3 315.0 L288.4 315.1 L289.6 315.1 L290.7 315.1 L291.9 315.1 L293.0 315.1 L294.2 315.2 L295.3 315.2 L296.5 315.2 L297.6 315.2 L298.7 315.2 L299.9 315.2 L301.0 315.2 L302.2 315.3 L303.3 315.3 L304.5 315.3 L305.6 315.3 L306.8 315.3 L307.9 315.3 L309.1 315.3 L310.2 315.3 L311.3 315.3 L312.5 315.3 L313.6 315.3 L314.8 315.3 L315.9 315.3 L317.1 315.3 L318.2 315.2 L319.4 315.2 L320.5 315.2 L321.7 315.2 L322.8 315.2 L323.9 315.2 L325.1 315.1 L326.2 315.1 L327.4 315.1 L328.5 315.1 L329.7 315.1 L330.8 315.1 L332.0 315.0 L333.1 315.0 L334.3 315.0 L335.4 315.0 L336.5 315.0 L337.7 314.9 L338.8 314.9 L340.0 314.9 L341.1 314.9 L342.3 314.8 L343.4 314.8 L344.6 314.8 L345.7 314.8 L346.9 314.8 L348.0 314.7 L349.1 314.7 L350.3 314.7 L351.4 314.7 L352.6 314.6 L353.7 314.6 L354.9 314.6 L356.0 314.6 L357.2 314.6 L358.3 314.5 L359.5 314.5 L360.6 314.5 L361.7 314.5 L362.9 314.4 L364.0 314.4 L365.2 314.4 L366.3 314.4 L367.5 314.3 L368.6 314.3 L369.8 314.3 L370.9 314.2 L372.0 314.2 L373.2 314.2 L374.3 314.2 L375.5 314.1 L376.6 314.1 L377.8 314.1 L378.9 314.0 L380.1 314.0 L381.2 314.0 L382.4 314.0 L383.5 313.9 L384.6 313.9 L385.8 313.8 L386.9 313.7 L388.1 313.7 L389.2 313.6 L390.4 313.5 L391.5 313.5 L392.7 313.4 L393.8 313.3 L395.0 313.3 L396.1 313.2 L397.2 313.2 L398.4 313.2 L399.5 313.2 L400.7 313.2 L401.8 313.2 L403.0 313.2 L404.1 313.2 L405.3 313.2 L406.4 313.3 L407.6 313.3 L408.7 313.4 L409.8 313.5 L411.0 313.6 L412.1 313.7 L413.3 313.9 L414.4 314.0 L415.6 314.2 L416.7 314.5 L417.9 314.7 L419.0 315.0 L420.2 315.3 L421.3 315.6 L422.4 316.0 L423.6 316.5 L424.7 317.0 L425.9 317.6 L427.0 318.3 L428.2 319.1 L429.3 319.9 L430.5 320.7 L431.6 321.7 L432.8 322.6 L433.9 323.7 L435.0 324.8 L436.2 326.0 L437.3 327.2 L438.5 328.6 L439.6 330.1 L440.8 331.7 L441.9 333.4 L443.1 335.2 L444.2 337.1 L445.4 339.1 L446.5 341.2 L447.6 343.3 L448.8 345.6 L449.9 348.0 L451.1 350.5 L452.2 353.1 L453.4 355.7 L454.5 358.4 L455.7 361.1 L456.8 363.9 L458.0 366.7 L459.1 369.5 L460.2 372.5 L461.4 375.5 L462.5 378.6 L463.7 381.8 L464.8 385.1 L466.0 388.3 L467.1 391.5 L468.3 394.6 L469.4 397.9 L470.6 401.1 L471.7 404.5 L472.8 407.8 L474.0 411.3 L475.1 414.7 L476.3 418.1 L477.4 421.6 L478.6 425.0 L479.7 428.5 L480.9 432.0 L482.0 435.6 L483.2 439.3 L484.3 443.1" stroke="#ff0a0a"/>
<path d="M285.0 314.9 L286.1 314.9 L287.3 314.9 L288.4 314.9 L289.6 314.9 L290.7 314.9 L291.9 315.0 L293.0 315.0 L294.2 315.0 L295.3 315.0 L296.5 315.0 L297.6 315.0 L298.7 315.0 L299.9 315.0 L301.0 315.0 L302.2 315.1 L303.3 315.1 L304.5 315.1 L305.6 315.1 L306.8 315.1 L307.9 315.1 L309.1 315.1 L310.2 315.1 L311.3 315.1 L312.5 315.2 L313.6 315.2 L314.8 315.2 L315.9 315.2 L317.1 315.2 L318.2 315.2 L319.4 315.2 L320.5 315.2 L321.7 315.2 L322.8 315.3 L323.9 315.3 L325.1 315.3 L326.2 315.3 L327.4 315.3 L328.5 315.3 L329.7 315.3 L330.8 315.3 L332.0 315.3 L333.1 315.4 L334.3 315.4 L335.4 315.4 L336.5 315.4 L337.7 315.4 L338.8 315.4 L340.0 315.4 L341.1 315.5 L342.3 315.5 L343.4 315.5 L344.6 315.5 L345.7 315.5 L346.9 315.6 L348.0 315.6 L349.1 315.6 L350.3 315.6 L351.4 315.7 L352.6 315.7 L353.7 315.7 L354.9 315.7 L356.0 315.7 L357.2 315.8 L358.3 315.8 L359.5 315.8 L360.6 315.8 L361.7 315.9 L362.9 315.9 L364.0 315.9 L365.2 315.9 L366.3 315.9 L367.5 316.0 L368.6 316.0 L369.8 316.0 L370.9 316.0 L372.0 316.1 L373.2 316.1 L374.3 316.1 L375.5 316.1 L376.6 316.2 L377.8 316.2 L378.9 316.2 L380.1 316.3 L381.2 316.3 L382.4 316.4 L383.5 316.4 L384.6 316.4 L385.8 316.5 L386.9 316.5 L388.1 316.6 L389.2 316.6 L390.4 316.7 L391.5 316.7 L392.7 316.7 L393.8 316.8 L395.0 316.8 L396.1 316.9 L397.2 316.9 L398.4 317.0 L399.5 317.0 L400.7 317.1 L401.8 317.2 L403.0 317.3 L404.1 317.4 L405.3 317.5 L406.4 317.7 L407.6 317.8 L408.7 317.9 L409.8 318.1 L411.0 318.3 L412.1 318.4 L413.3 318.6 L414.4 318.7 L415.6 318.9 L416.7 319.0 L417.9 319.2 L419.0 319.3 L420.2 319.5 L421.3 319.6 L422.4 319.8 L423.6 320.0 L424.7 320.2 L425.9 320.4 L427.0 320.7 L428.2 320.9 L429.3 321.2 L430.5 321.4 L431.6 321.7 L432.8 322.0 L433.9 322.2 L435.0 322.5 L436.2 322.8 L437.3 323.1 L438.5 323.4 L439.6 323.8 L440.8 324.1 L441.9 324.5 L443.1 324.9 L444.2 325.4 L445.4 325.8 L446.5 326.3 L447.6 326.8 L448.8 327.4 L449.9 327.9 L451.1 328.5 L452.2 329.1 L453.4 329.8 L454.5 330.4 L455.7 331.1 L456.8 331.8 L458.0 332.5 L459.1 333.2 L460.2 333.9 L461.4 334.6 L462.5 335.3 L463.7 336.0 L464.8 336.8 L466.0 337.6 L467.1 338.3 L468.3 339.1 L469.4 339.9 L470.6 340.6 L471.7 341.4 L472.8 342.1 L474.0 342.8 L475.1 343.4 L476.3 344.1 L477.4 344.7 L478.6 345.3 L479.7 345.8 L480.9 346.4 L482.0 346.9 L483.2 347.5 L484.3 348.0 L485.4 348.4 L486.6 348.9 L487.7 349.3 L488.9 349.8 L490.0 350.2 L491.2 350.6 L492.3 351.0 L493.5 351.4 L494.6 351.8 L495.8 352.3 L496.9 352.8 L498.0 353.4 L499.2 354.0 L500.3 354.6 L501.5 355.2 L502.6 355.7 L503.8 356.3 L504.9 356.9 L506.1 357.5 L507.2 358.1 L508.4 358.7 L509.5 359.3 L510.6 359.8 L511.8 360.4 L512.9 361.1 L514.1 361.7 L515.2 362.4 L516.4 363.2 L517.5 364.0 L518.7 364.8 L519.8 365.7 L521.0 366.7 L522.1 367.7 L523.2 368.8 L524.4 370.0 L525.5 371.3 L526.7 372.6 L527.8 374.1 L529.0 375.6 L530.1 377.2 L531.3 378.9 L532.4 380.6" stroke="#ff6608"/>
<path d="M73.1 255.4 L74.2 255.5 L75.4 255.5 L76.5 255.5 L77.7 255.6 L78.8 255.7 L80.0 255.7 L81.1 255.8 L82.3 255.8 L83.4 255.9 L84.6 256.0 L85.7 256.0 L86.8 256.1 L88.0 256.2 L89.1 256.3 L90.3 256.3 L91.4 256.4 L92.6 256.5 L93.7 256.6 L94.9 256.7 L96.0 256.8 L97.2 256.9 L98.3 257.0 L99.4 257.2 L100.6 257.3 L101.7 257.4 L102.9 257.5 L104.0 257.7 L105.2 257.8 L106.3 258.0 L107.5 258.2 L108.6 258.3 L109.8 258.5 L110.9 258.7 L112.0 258.9 L113.2 259.1 L114.3 259.3 L115.5 259.6 L116.6 259.8 L117.8 260.0 L118.9 260.3 L120.1 260.6 L121.2 260.8 L122.4 261.1 L123.5 261.4 L124.6 261.8 L125.8 262.1 L126.9 262.4 L128.1 262.8 L129.2 263.2 L130.4 263.6 L131.5 264.0 L132.7 264.4 L133.8 264.9 L135.0 265.3 L136.1 265.8 L137.2 266.3 L138.4 266.8 L139.5 267.4 L140.7 268.0 L141.8 268.5 L143.0 269.1 L144.1 269.8 L145.3 270.4 L146.4 271.1 L147.6 271.8 L148.7 272.5 L149.8 273.2 L151.0 273.9 L152.1 274.7 L153.3 275.5 L154.4 276.3 L155.6 277.1 L156.7 277.9 L157.9 278.8 L159.0 279.6 L160.2 280.5 L161.3 281.4 L162.4 282.3 L163.6 283.1 L164.7 284.0 L165.9 284.9 L167.0 285.8 L168.2 286.7 L169.3 287.6 L170.5 288.5 L171.6 289.4 L172.7 290.3 L173.9 291.2 L175.0 292.0 L176.2 292.9 L177.3 293.7 L178.5 294.5 L179.6 295.3 L180.8 296.1 L181.9 296.8 L183.1 297.6 L184.2 298.3 L185.3 299.0 L186.5 299.7 L187.6 300.3 L188.8 301.0 L189.9 301.6 L191.1 302.2 L192.2 302.7 L193.4 303.3 L194.5 303.8 L195.7 304.3 L196.8 304.8 L197.9 305.3 L199.1 305.7 L200.2 306.2 L201.4 306.6 L202.5 307.0 L203.7 307.4 L204.8 307.7 L206.0 308.1 L207.1 308.4 L208.3 308.7 L209.4 309.0 L210.5 309.3 L211.7 309.6 L212.8 309.9 L214.0 310.1 L215.1 310.4 L216.3 310.6 L217.4 310.8 L218.6 311.1 L219.7 311.3 L220.9 311.4 L222.0 311.6 L223.1 311.8 L224.3 312.0 L225.4 312.1 L226.6 312.3 L227.7 312.4 L228.9 312.6 L230.0 312.7 L231.2 312.8 L232.3 312.9 L233.5 313.1 L234.6 313.2 L235.7 313.3 L236.9 313.4 L238.0 313.5 L239.2 313.6 L240.3 313.6 L241.5 313.7 L242.6 313.8 L243.8 313.9 L244.9 313.9 L246.1 314.0 L247.2 314.1 L248.3 314.1 L249.5 314.2 L250.6 314.2 L251.8 314.3 L252.9 314.3 L254.1 314.4 L255.2 314.4 L256.4 314.4 L257.5 314.5 L258.7 314.5 L259.8 314.5 L260.9 314.6 L262.1 314.6 L263.2 314.6 L264.4 314.7 L265.5 314.7 L266.7 314.7 L267.8 314.7 L269.0 314.7 L270.1 314.8 L271.3 314.8 L272.4 314.8 L273.5 314.8 L274.7 314.8 L275.8 314.8 L277.0 314.9 L278.1 314.9 L279.3 314.9 L280.4 314.9 L281.6 315.0 L282.7 315.0 L283.9 315.0 L285.0 315.0 L286.1 315.0 L287.3 315.1 L288.4 315.1 L289.6 315.1 L290.7 315.1 L291.9 315.1 L293.0 315.2 L294.2 315.2 L295.3 315.2 L296.5 315.2 L297.6 315.2 L298.7 315.3 L299.9 315.3 L301.0 315.3 L302.2 315.3 L303.3 315.4 L304.5 315.4 L305.6 315.4 L306.8 315.5 L307.9 315.5 L309.1 315.5 L310.2 315.6 L311.3 315.6 L312.5 315.7 L313.6 315.7 L314.8 315.8 L315.9 315.9 L317.1 315.9 L318.2 316.0 L319.4 316.0 L320.5 316.1 L321.7 316.2 L322.8 316.3 L323.9 316.4 L325.1 316.5 L326.2 316.6 L327.4 316.7 L328.5 316.8 L329.7 316.9 L330.8 317.0 L332.0 317.2 L333.1 317.3 L334.3 317.5 L335.4 317.6 L336.5 317.8 L337.7 317.9 L338.8 318.1 L340.0 318.3 L341.1 318.5 L342.3 318.7 L343.4 318.9 L344.6 319.1 L345.7 319.3 L346.9 319.6 L348.0 319.8 L349.1 320.1 L350.3 320.3 L351.4 320.6 L352.6 320.8 L353.7 321.1 L354.9 321.4 L356.0 321.6 L357.2 321.9 L358.3 322.2 L359.5 322.5 L360.6 322.7 L361.7 323.0 L362.9 323.3 L364.0 323.6 L365.2 323.9 L366.3 324.3 L367.5 324.6 L368.6 325.0 L369.8 325.4 L370.9 325.8 L372.0 326.2 L373.2 326.7 L374.3 327.2 L375.5 327.8 L376.6 328.4 L377.8 329.0 L378.9 329.6 L380.1 330.2 L381.2 330.9 L382.4 331.6 L383.5 332.3 L384.6 333.0 L385.8 333.8 L386.9 334.5 L388.1 335.3 L389.2 336.1 L390.4 336.9 L391.5 337.7 L392.7 338.5 L393.8 339.3 L395.0 340.2 L396.1 341.0 L397.2 341.9 L398.4 342.8 L399.5 343.8 L400.7 344.7 L401.8 345.7 L403.0 346.7 L404.1 347.8 L405.3 348.9 L406.4 349.9 L407.6 351.0 L408.7 352.1 L409.8 353.2 L411.0 354.3 L412.1 355.5 L413.3 356.6 L414.4 357.7 L415.6 358.9 L416.7 360.1 L417.9 361.3 L419.0 362.6 L420.2 363.8 L421.3 365.1 L422.4 366.3 L423.6 367.5 L424.7 368.7 L425.9 369.9 L427.0 371.1 L428.2 372.3 L429.3 373.5 L430.5 374.7 L431.6 376.0 L432.8 377.2 L433.9 378.4 L435.0 379.6 L436.2 380.9 L437.3 382.2 L438.5 383.5 L439.6 384.8 L440.8 386.2 L441.9 387.6 L443.1 389.0 L444.2 390.4 L445.4 391.8 L446.5 393.3 L447.6 394.8 L448.8 396.3 L449.9 397.9 L451.1 399.5 L452.2 401.1 L453.4 402.8 L454.5 404.5 L455.7 406.2 L456.8 408.0 L458.0 409.9 L459.1 411.7 L460.2 413.6 L461.4 415.6 L462.5 417.5 L463.7 419.6 L464.8 421.6 L466.0 423.7 L467.1 425.9 L468.3 428.0 L469.4 430.3 L470.6 432.6 L471.7 435.0 L472.8 437.5 L474.0 440.0 L475.1 442.7" stroke="#ffea08"/>
<path d="M73.1 259.3 L74.2 259.5 L75.4 259.8 L76.5 260.0 L77.7 260.3 L78.8 260.6 L80.0 260.8 L81.1 261.1 L82.3 261.4 L83.4 261.8 L84.6 262.1 L85.7 262.4 L86.8 262.8 L88.0 263.2 L89.1 263.6 L90.3 264.0 L91.4 264.4 L92.6 264.9 L93.7 265.3 L94.9 265.8 L96.0 266.3 L97.2 266.8 L98.3 267.4 L99.4 267.9 L100.6 268.5 L101.7 269.1 L102.9 269.8 L104.0 270.4 L105.2 271.1 L106.3 271.7 L107.5 272.5 L108.6 273.2 L109.8 273.9 L110.9 274.7 L112.0 275.5 L113.2 276.3 L114.3 277.1 L115.5 277.9 L116.6 278.8 L117.8 279.6 L118.9 280.5 L120.1 281.4 L121.2 282.2 L122.4 283.1 L123.5 284.0 L124.6 284.9 L125.8 285.8 L126.9 286.7 L128.1 287.6 L129.2 288.5 L130.4 289.4 L131.5 290.3 L132.7 291.2 L133.8 292.0 L135.0 292.9 L136.1 293.7 L137.2 294.5 L138.4 295.3 L139.5 296.1 L140.7 296.8 L141.8 297.6 L143.0 298.3 L144.1 299.0 L145.3 299.7 L146.4 300.3 L147.6 301.0 L148.7 301.6 L149.8 302.2 L151.0 302.8 L152.1 303.3 L153.3 303.9 L154.4 304.4 L155.6 304.9 L156.7 305.4 L157.9 305.8 L159.0 306.3 L160.2 306.7 L161.3 307.1 L162.4 307.5 L163.6 307.9 L164.7 308.2 L165.9 308.6 L167.0 308.9 L168.2 309.2 L169.3 309.5 L170.5 309.8 L171.6 310.1 L172.7 310.4 L173.9 310.6 L175.0 310.9 L176.2 311.1 L177.3 311.3 L178.5 311.6 L179.6 311.8 L180.8 312.0 L181.9 312.1 L183.1 312.3 L184.2 312.5 L185.3 312.7 L186.5 312.8 L187.6 313.0 L188.8 313.1 L189.9 313.2 L191.1 313.3 L192.2 313.4 L193.4 313.5 L194.5 313.6 L195.7 313.7 L196.8 313.8 L197.9 313.9 L199.1 314.0 L200.2 314.0 L201.4 314.1 L202.5 314.2 L203.7 314.2 L204.8 314.3 L206.0 314.4 L207.1 314.4 L208.3 314.5 L209.4 314.5 L210.5 314.6 L211.7 314.6 L212.8 314.6 L214.0 314.7 L215.1 314.7 L216.3 314.7 L217.4 314.8 L218.6 314.8 L219.7 314.8 L220.9 314.8 L222.0 314.9 L223.1 314.9 L224.3 314.9 L225.4 314.9 L226.6 314.9 L227.7 314.9 L228.9 315.0 L230.0 315.0 L231.2 315.0 L232.3 315.0 L233.5 315.0 L234.6 315.0 L235.7 315.0 L236.9 315.0 L238.0 315.0 L239.2 315.0 L240.3 315.0 L241.5 315.0 L242.6 315.0 L243.8 315.0 L244.9 315.0 L246.1 315.0 L247.2 315.0 L248.3 315.0 L249.5 315.0 L250.6 315.0 L251.8 315.0 L252.9 315.0 L254.1 315.0 L255.2 315.0 L256.4 315.0 L257.5 315.0 L258.7 314.9 L259.8 314.9 L260.9 314.9 L262.1 314.9 L263.2 314.9 L264.4 314.9 L265.5 314.9 L266.7 314.9 L267.8 314.9 L269.0 314.9 L270.1 314.9 L271.3 314.8 L272.4 314.8 L273.5 314.8 L274.7 314.8 L275.8 314.8 L277.0 314.8 L278.1 314.8 L279.3 314.8 L280.4 314.8 L281.6 314.8 L282.7 314.8 L283.9 314.8 L285.0 314.8 L286.1 314.8 L287.3 314.8 L288.4 314.8 L289.6 314.8 L290.7 314.8 L291.9 314.8 L293.0 314.8 L294.2 314.8 L295.3 314.8 L296.5 314.8 L297.6 314.8 L298.7 314.8 L299.9 314.8 L301.0 314.8 L302.2 314.8 L303.3 314.8 L304.5 314.8 L305.6 314.7 L306.8 314.7 L307.9 314.7 L309.1 314.7 L310.2 314.6 L311.3 314.6 L312.5 314.6 L313.6 314.5 L314.8 314.5 L315.9 314.4 L317.1 314.4 L318.2 314.3 L319.4 314.3 L320.5 314.2 L321.7 314.1 L322.8 314.1 L323.9 314.0 L325.1 313.9 L326.2 313.9 L327.4 313.8 L328.5 313.7 L329.7 313.6 L330.8 313.5 L332.0 313.4 L333.1 313.3 L334.3 313.1 L335.4 313.0 L336.5 312.9 L337.7 312.7 L338.8 312.6 L340.0 312.4 L341.1 312.3 L342.3 312.1 L343.4 312.0 L344.6 311.8 L345.7 311.6 L346.9 311.4 L348.0 311.3 L349.1 311.1 L350.3 310.9 L351.4 310.7 L352.6 310.4 L353.7 310.2 L354.9 310.0 L356.0 309.7 L357.2 309.4 L358.3 309.1 L359.5 308.7 L360.6 308.3 L361.7 307.9 L362.9 307.4 L364.0 307.0 L365.2 306.5 L366.3 306.0 L367.5 305.5 L368.6 304.9 L369.8 304.4 L370.9 303.9 L372.0 303.3 L373.2 302.8 L374.3 302.2 L375.5 301.7 L376.6 301.1 L377.8 300.5 L378.9 299.9 L380.1 299.2 L381.2 298.6 L382.4 297.9 L383.5 297.1 L384.6 296.4 L385.8 295.6 L386.9 294.9 L388.1 294.1 L389.2 293.4 L390.4 292.6 L391.5 291.9 L392.7 291.2 L393.8 290.5 L395.0 289.8 L396.1 289.1 L397.2 288.4 L398.4 287.7 L399.5 287.0 L400.7 286.4 L401.8 285.7 L403.0 285.0 L404.1 284.4 L405.3 283.8 L406.4 283.2 L407.6 282.6 L408.7 282.0 L409.8 281.4 L411.0 280.8 L412.1 280.2 L413.3 279.7 L414.4 279.2 L415.6 278.7 L416.7 278.2 L417.9 277.8 L419.0 277.4 L420.2 277.0 L421.3 276.7 L422.4 276.5 L423.6 276.2 L424.7 276.0 L425.9 275.8 L427.0 275.7 L428.2 275.6 L429.3 275.6 L430.5 275.6 L431.6 275.7 L432.8 275.8 L433.9 275.9 L435.0 276.1 L436.2 276.3 L437.3 276.6 L438.5 276.9 L439.6 277.2 L440.8 277.6 L441.9 278.0 L443.1 278.4 L444.2 278.9 L445.4 279.5 L446.5 280.1 L447.6 280.7 L448.8 281.4 L449.9 282.2 L451.1 283.0 L452.2 283.8 L453.4 284.7 L454.5 285.7 L455.7 286.7 L456.8 287.8 L458.0 288.9 L459.1 290.1 L460.2 291.3 L461.4 292.6 L462.5 294.0 L463.7 295.3 L464.8 296.8 L466.0 298.2 L467.1 299.8 L468.3 301.4 L469.4 303.0 L470.6 304.8 L471.7 306.5 L472.8 308.3 L474.0 310.1 L475.1 311.9 L476.3 313.8 L477.4 315.6 L478.6 317.5 L479.7 319.3 L480.9 321.2 L482.0 323.1 L483.2 325.0 L484.3 326.9 L485.4 328.8 L486.6 330.7 L487.7 332.6 L488.9 334.6 L490.0 336.6 L491.2 338.7 L492.3 340.7 L493.5 342.8 L494.6 345.0 L495.8 347.1 L496.9 349.2 L498.0 351.4 L499.2 353.5 L500.3 355.6 L501.5 357.8 L502.6 359.9 L503.8 362.1 L504.9 364.2 L506.1 366.4 L507.2 368.6 L508.4 370.7 L509.5 372.9 L510.6 375.1 L511.8 377.3 L512.9 379.5 L514.1 381.7 L515.2 383.9 L516.4 386.2 L517.5 388.4 L518.7 390.7 L519.8 393.0 L521.0 395.4 L522.1 397.7 L523.2 400.0 L524.4 402.4 L525.5 404.8 L526.7 407.1 L527.8 409.5 L529.0 411.9 L530.1 414.4 L531.3 416.8 L532.4 419.3" stroke="#08f518"/>
</g>
<rect x="78" y="341.5" width="256.6" height="90.8" fill="#fff" stroke="#808080" stroke-width="1"/>
<line x1="79.8" y1="352.40" x2="115.4" y2="352.40" stroke="#ff0a0a" stroke-width="2.9"/>
<text x="119.3" y="357.00" class="lg">I<tspan class="sub" dy="4.2">load</tspan><tspan dy="-4.2">=0A with ARU</tspan></text>
<line x1="79.8" y1="374.45" x2="115.4" y2="374.45" stroke="#ff6608" stroke-width="2.9"/>
<text x="119.3" y="379.05" class="lg">I<tspan class="sub" dy="4.2">load</tspan><tspan dy="-4.2">=50mA with ARU</tspan></text>
<line x1="79.8" y1="396.50" x2="115.4" y2="396.50" stroke="#ffea08" stroke-width="2.9"/>
<text x="119.3" y="401.10" class="lg">I<tspan class="sub" dy="4.2">load</tspan><tspan dy="-4.2">=0A with fixed resistance</tspan></text>
<line x1="79.8" y1="418.55" x2="115.4" y2="418.55" stroke="#08f518" stroke-width="2.9"/>
<text x="119.3" y="423.15" class="lg">I<tspan class="sub" dy="4.2">load</tspan><tspan dy="-4.2">=50mA with fixed resistance</tspan></text>
<path d="M73.10 253.05 V438.80 H532.01" class="ax" fill="none"/>
<line x1="73.10" y1="438.80" x2="73.10" y2="445.80" class="ax"/>
<line x1="90.34" y1="438.80" x2="90.34" y2="442.30" class="ax"/>
<line x1="100.42" y1="438.80" x2="100.42" y2="442.30" class="ax"/>
<line x1="107.58" y1="438.80" x2="107.58" y2="442.30" class="ax"/>
<line x1="113.13" y1="438.80" x2="113.13" y2="442.30" class="ax"/>
<line x1="117.66" y1="438.80" x2="117.66" y2="442.30" class="ax"/>
<line x1="121.50" y1="438.80" x2="121.50" y2="442.30" class="ax"/>
<line x1="124.82" y1="438.80" x2="124.82" y2="442.30" class="ax"/>
<line x1="127.75" y1="438.80" x2="127.75" y2="442.30" class="ax"/>
<text x="72.80" y="465.10" class="tl" text-anchor="middle">10<tspan class="sup" dy="-5.7">0</tspan></text>
<line x1="130.37" y1="438.80" x2="130.37" y2="445.80" class="ax"/>
<line x1="147.61" y1="438.80" x2="147.61" y2="442.30" class="ax"/>
<line x1="157.69" y1="438.80" x2="157.69" y2="442.30" class="ax"/>
<line x1="164.85" y1="438.80" x2="164.85" y2="442.30" class="ax"/>
<line x1="170.40" y1="438.80" x2="170.40" y2="442.30" class="ax"/>
<line x1="174.93" y1="438.80" x2="174.93" y2="442.30" class="ax"/>
<line x1="178.77" y1="438.80" x2="178.77" y2="442.30" class="ax"/>
<line x1="182.09" y1="438.80" x2="182.09" y2="442.30" class="ax"/>
<line x1="185.02" y1="438.80" x2="185.02" y2="442.30" class="ax"/>
<text x="130.07" y="465.10" class="tl" text-anchor="middle">10<tspan class="sup" dy="-5.7">1</tspan></text>
<line x1="187.64" y1="438.80" x2="187.64" y2="445.80" class="ax"/>
<line x1="204.88" y1="438.80" x2="204.88" y2="442.30" class="ax"/>
<line x1="214.96" y1="438.80" x2="214.96" y2="442.30" class="ax"/>
<line x1="222.12" y1="438.80" x2="222.12" y2="442.30" class="ax"/>
<line x1="227.67" y1="438.80" x2="227.67" y2="442.30" class="ax"/>
<line x1="232.20" y1="438.80" x2="232.20" y2="442.30" class="ax"/>
<line x1="236.04" y1="438.80" x2="236.04" y2="442.30" class="ax"/>
<line x1="239.36" y1="438.80" x2="239.36" y2="442.30" class="ax"/>
<line x1="242.29" y1="438.80" x2="242.29" y2="442.30" class="ax"/>
<text x="187.34" y="465.10" class="tl" text-anchor="middle">10<tspan class="sup" dy="-5.7">2</tspan></text>
<line x1="244.91" y1="438.80" x2="244.91" y2="445.80" class="ax"/>
<line x1="262.15" y1="438.80" x2="262.15" y2="442.30" class="ax"/>
<line x1="272.23" y1="438.80" x2="272.23" y2="442.30" class="ax"/>
<line x1="279.39" y1="438.80" x2="279.39" y2="442.30" class="ax"/>
<line x1="284.94" y1="438.80" x2="284.94" y2="442.30" class="ax"/>
<line x1="289.47" y1="438.80" x2="289.47" y2="442.30" class="ax"/>
<line x1="293.31" y1="438.80" x2="293.31" y2="442.30" class="ax"/>
<line x1="296.63" y1="438.80" x2="296.63" y2="442.30" class="ax"/>
<line x1="299.56" y1="438.80" x2="299.56" y2="442.30" class="ax"/>
<text x="244.61" y="465.10" class="tl" text-anchor="middle">10<tspan class="sup" dy="-5.7">3</tspan></text>
<line x1="302.18" y1="438.80" x2="302.18" y2="445.80" class="ax"/>
<line x1="319.42" y1="438.80" x2="319.42" y2="442.30" class="ax"/>
<line x1="329.50" y1="438.80" x2="329.50" y2="442.30" class="ax"/>
<line x1="336.66" y1="438.80" x2="336.66" y2="442.30" class="ax"/>
<line x1="342.21" y1="438.80" x2="342.21" y2="442.30" class="ax"/>
<line x1="346.74" y1="438.80" x2="346.74" y2="442.30" class="ax"/>
<line x1="350.58" y1="438.80" x2="350.58" y2="442.30" class="ax"/>
<line x1="353.90" y1="438.80" x2="353.90" y2="442.30" class="ax"/>
<line x1="356.83" y1="438.80" x2="356.83" y2="442.30" class="ax"/>
<text x="301.88" y="465.10" class="tl" text-anchor="middle">10<tspan class="sup" dy="-5.7">4</tspan></text>
<line x1="359.45" y1="438.80" x2="359.45" y2="445.80" class="ax"/>
<line x1="376.69" y1="438.80" x2="376.69" y2="442.30" class="ax"/>
<line x1="386.77" y1="438.80" x2="386.77" y2="442.30" class="ax"/>
<line x1="393.93" y1="438.80" x2="393.93" y2="442.30" class="ax"/>
<line x1="399.48" y1="438.80" x2="399.48" y2="442.30" class="ax"/>
<line x1="404.01" y1="438.80" x2="404.01" y2="442.30" class="ax"/>
<line x1="407.85" y1="438.80" x2="407.85" y2="442.30" class="ax"/>
<line x1="411.17" y1="438.80" x2="411.17" y2="442.30" class="ax"/>
<line x1="414.10" y1="438.80" x2="414.10" y2="442.30" class="ax"/>
<text x="359.15" y="465.10" class="tl" text-anchor="middle">10<tspan class="sup" dy="-5.7">5</tspan></text>
<line x1="416.72" y1="438.80" x2="416.72" y2="445.80" class="ax"/>
<line x1="433.96" y1="438.80" x2="433.96" y2="442.30" class="ax"/>
<line x1="444.04" y1="438.80" x2="444.04" y2="442.30" class="ax"/>
<line x1="451.20" y1="438.80" x2="451.20" y2="442.30" class="ax"/>
<line x1="456.75" y1="438.80" x2="456.75" y2="442.30" class="ax"/>
<line x1="461.28" y1="438.80" x2="461.28" y2="442.30" class="ax"/>
<line x1="465.12" y1="438.80" x2="465.12" y2="442.30" class="ax"/>
<line x1="468.44" y1="438.80" x2="468.44" y2="442.30" class="ax"/>
<line x1="471.37" y1="438.80" x2="471.37" y2="442.30" class="ax"/>
<text x="416.42" y="465.10" class="tl" text-anchor="middle">10<tspan class="sup" dy="-5.7">6</tspan></text>
<line x1="473.99" y1="438.80" x2="473.99" y2="445.80" class="ax"/>
<line x1="491.23" y1="438.80" x2="491.23" y2="442.30" class="ax"/>
<line x1="501.31" y1="438.80" x2="501.31" y2="442.30" class="ax"/>
<line x1="508.47" y1="438.80" x2="508.47" y2="442.30" class="ax"/>
<line x1="514.02" y1="438.80" x2="514.02" y2="442.30" class="ax"/>
<line x1="518.55" y1="438.80" x2="518.55" y2="442.30" class="ax"/>
<line x1="522.39" y1="438.80" x2="522.39" y2="442.30" class="ax"/>
<line x1="525.71" y1="438.80" x2="525.71" y2="442.30" class="ax"/>
<line x1="528.64" y1="438.80" x2="528.64" y2="442.30" class="ax"/>
<text x="473.69" y="465.10" class="tl" text-anchor="middle">10<tspan class="sup" dy="-5.7">7</tspan></text>
<line x1="531.26" y1="438.80" x2="531.26" y2="445.80" class="ax"/>
<text x="530.96" y="465.10" class="tl" text-anchor="middle">10<tspan class="sup" dy="-5.7">8</tspan></text>
<line x1="66.10" y1="253.80" x2="73.10" y2="253.80" class="ax"/>
<line x1="69.60" y1="269.22" x2="73.10" y2="269.22" class="ax"/>
<text x="60.50" y="258.60" class="tl yl" text-anchor="end">180</text>
<line x1="66.10" y1="284.63" x2="73.10" y2="284.63" class="ax"/>
<line x1="69.60" y1="300.05" x2="73.10" y2="300.05" class="ax"/>
<text x="60.50" y="289.43" class="tl yl" text-anchor="end">135</text>
<line x1="66.10" y1="315.47" x2="73.10" y2="315.47" class="ax"/>
<line x1="69.60" y1="330.88" x2="73.10" y2="330.88" class="ax"/>
<text x="60.50" y="320.27" class="tl yl" text-anchor="end">90</text>
<line x1="66.10" y1="346.30" x2="73.10" y2="346.30" class="ax"/>
<line x1="69.60" y1="361.72" x2="73.10" y2="361.72" class="ax"/>
<text x="60.50" y="351.10" class="tl yl" text-anchor="end">45</text>
<line x1="66.10" y1="377.13" x2="73.10" y2="377.13" class="ax"/>
<line x1="69.60" y1="392.55" x2="73.10" y2="392.55" class="ax"/>
<text x="60.50" y="381.93" class="tl yl" text-anchor="end">0</text>
<line x1="66.10" y1="407.97" x2="73.10" y2="407.97" class="ax"/>
<line x1="69.60" y1="423.38" x2="73.10" y2="423.38" class="ax"/>
<text x="60.50" y="412.77" class="tl yl" text-anchor="end">−45</text>
<line x1="66.10" y1="438.80" x2="73.10" y2="438.80" class="ax"/>
<text x="60.50" y="443.60" class="tl yl" text-anchor="end">−90</text>
<text transform="translate(26.8 346.2) rotate(-90)" class="at" text-anchor="middle">Phase (degree)</text>
<text x="303.8" y="489.5" class="at" text-anchor="middle">Frequency (Hz)</text>
</svg>
</body></html>
